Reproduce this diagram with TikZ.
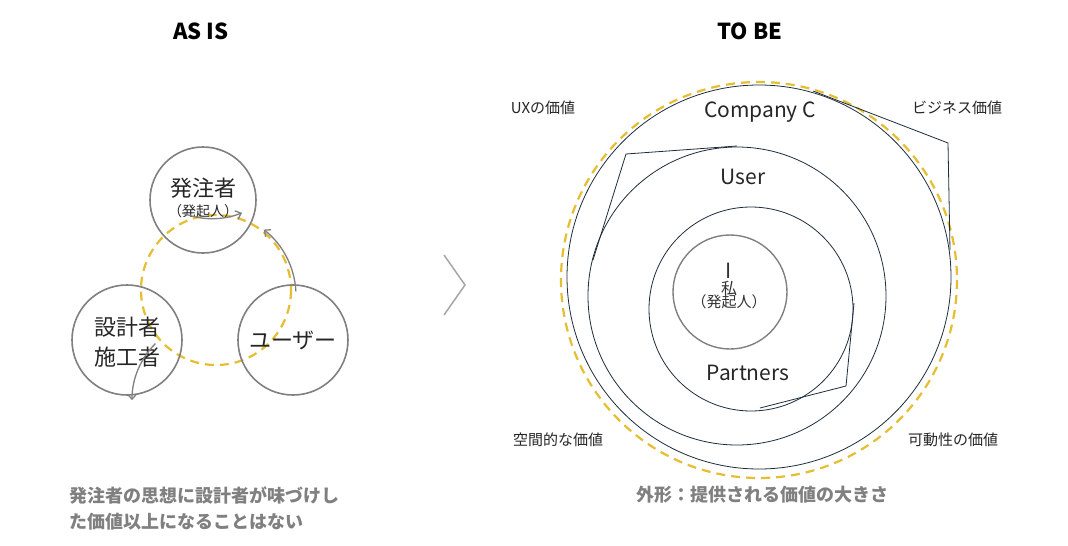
\documentclass[tikz,border=0pt]{standalone}
\usepackage{fontspec}
\setmainfont{Noto Sans CJK JP}
\usetikzlibrary{arrows.meta}
\definecolor{gr}{RGB}{128,128,128}
\definecolor{yl}{RGB}{230,190,50}
\definecolor{nv}{RGB}{30,45,60}
\begin{document}
\begin{tikzpicture}[x=1pt,y=-1pt,
  gcirc/.style={circle,draw=gr,line width=1.6pt,inner sep=0pt},
  ycirc/.style={draw=yl,line width=2.2pt,dash pattern=on 9pt off 6pt},
  thin/.style={draw=nv,line width=0.8pt},
  garr/.style={draw=gr,line width=1.3pt,-{Straight Barb[length=5pt,width=9pt]}},
  lab/.style={font=\fontsize{15}{18}\selectfont,text=black!85}]
\useasboundingbox (0,0) rectangle (1068,546);
\fill[white] (0,0) rectangle (1068,546);
\node[font=\bfseries\fontsize{22}{26}\selectfont] (t1) at (201,31) {AS IS};
\node[font=\bfseries\fontsize{22}{26}\selectfont] (t2) at (750,31) {TO BE};
% left
\draw[ycirc] (216,290) circle (75);
\node[gcirc,minimum size=106pt,fill=none] (a) at (203,200) {};
\node[align=center,font=\fontsize{22}{22}\selectfont,text=black!85] (at) at (203,198) {発注者\\[-2pt]{\fontsize{14}{14}\selectfont（発起人）}};
\node[gcirc,minimum size=110pt] (b) at (127,340) {};
\node[align=center,font=\fontsize{22}{30}\selectfont,text=black!85] (bt) at (127,342) {設計者\\施工者};
\node[gcirc,minimum size=110pt] (c) at (293,340) {};
\node[font=\fontsize{22}{22}\selectfont,text=black!85] (ct) at (293,340) {ユーザー};
\coordinate (o) at (212,287);
\draw[garr] ([shift={(135:80)}]o) arc[start angle=-135,end angle=-180,radius=80];
\draw[garr] ([shift={(-112:80)}]o) arc[start angle=112,end angle=68,radius=80];
\draw[garr] ([shift={(3:84)}]o) arc[start angle=-3,end angle=-52,radius=84];
% chevron
\draw[gr!70,line width=1.5pt] (444,255) -- (465,285) -- (444,315);
% right
\draw[ycirc] (759,280) circle (198);
\node[circle,thin,minimum size=384pt] (cc) at (759,277) {};
\node[circle,thin,minimum size=298pt] (uc) at (737,296) {};
\node[circle,thin,minimum size=204pt] (pc) at (751,309) {};
\node[gcirc,minimum size=114pt,line width=1.4pt] (ic) at (730,292) {};
\draw[thin] (813,91) -- (948,143) -- (950,250);
\draw[thin] (593,260) -- (626,154) -- (737,146);
\draw[thin] (854,303) -- (846,386) -- (760,408);
\node[font=\fontsize{21}{21}\selectfont,text=black!85] (l1) at (760,112) {Company C};
\node[font=\fontsize{21}{21}\selectfont,text=black!85] (l2) at (743,177) {User};
\node[font=\fontsize{21}{21}\selectfont,text=black!85] (l3) at (748,373) {Partners};
\node[align=center,text=black!80] (l4) at (729,286) {{\fontsize{21}{21}\selectfont I}\\[1pt]{\fontsize{16}{18}\selectfont 私}\\[-2pt]{\fontsize{15}{16}\selectfont（発起人）}};
\node[lab] (u1) at (543,108) {UXの価値};
\node[lab] (u2) at (957,108) {ビジネス価値};
\node[lab] (u3) at (558,440) {空間的な価値};
\node[lab] (u4) at (953,440) {可動性の価値};
% bottom
\node[anchor=west,align=left,font=\bfseries\fontsize{18}{26}\selectfont,text=gr] (bl) at (66,508) {発注者の思想に設計者が味づけし\\た価値以上になることはない};
\node[font=\bfseries\fontsize{18}{22}\selectfont,text=gr] (br) at (762,495) {外形：提供される価値の大きさ};
\end{tikzpicture}
\end{document}
